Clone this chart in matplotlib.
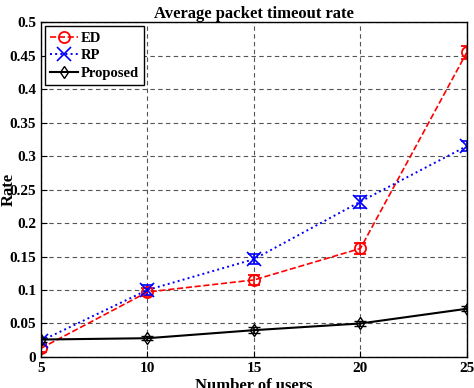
import matplotlib
matplotlib.use("Agg")
import matplotlib.pyplot as plt
from matplotlib.lines import Line2D

plt.rcParams['font.family'] = ['Liberation Serif', 'DejaVu Serif']
plt.rcParams['font.weight'] = 'bold'

users = [5, 10, 15, 20, 25]
ed = [0.013, 0.097, 0.115, 0.162, 0.455]
ed_err = [0.005, 0.006, 0.007, 0.008, 0.010]
rp = [0.024, 0.100, 0.146, 0.232, 0.315]
rp_err = [0.004, 0.008, 0.007, 0.009, 0.008]
prop = [0.026, 0.028, 0.040, 0.050, 0.072]
prop_err = [0.003, 0.003, 0.004, 0.004, 0.004]

fig = plt.figure(figsize=(4.74, 3.88), dpi=100)
ax = fig.add_axes([0.0865, 0.080, 0.8985, 0.863])

styles = [
    dict(color='red', ls='--', lw=1.2, marker='o', mfc='none', ms=8, mew=1.3),
    dict(color='blue', ls=':', lw=1.4, marker='x', ms=10, mew=1.2),
    dict(color='black', ls='-', lw=1.5, marker='d', mfc='none', ms=6, mew=1.0),
]
names = ['ED', 'RP', 'Proposed']
for y, e, st in zip([ed, rp, prop], [ed_err, rp_err, prop_err], styles):
    ax.errorbar(users, y, yerr=e, capsize=4, elinewidth=1.2, **st)

ax.set_xlim(5, 25)
ax.set_ylim(0, 0.5)
ax.set_xticks(users)
ax.set_yticks([0, 0.05, 0.1, 0.15, 0.2, 0.25, 0.3, 0.35, 0.4, 0.45, 0.5])
ax.set_yticklabels(['0', '0.05', '0.1', '0.15', '0.2', '0.25', '0.3', '0.35', '0.4', '0.45', '0.5'])
ax.tick_params(labelsize=11, direction='in', length=4)
ax.grid(True, ls='--', color='#555555', lw=0.8, dashes=(4, 3))
for s in ax.spines.values():
    s.set_linewidth(1.0)

ax.set_title('Average packet timeout rate', fontsize=12, fontweight='bold', pad=1)
ax.set_xlabel('Number of users', fontsize=12, fontweight='bold', labelpad=2)
ax.set_ylabel('Rate', fontsize=12, fontweight='bold')
ax.yaxis.set_label_coords(-0.057, 0.5)

handles = [Line2D([], [], **st) for st in styles]
leg = ax.legend(handles, names, loc='upper left', fontsize=10.5, fancybox=False,
                framealpha=1, edgecolor='black', borderaxespad=0.3,
                handlelength=1.9, handletextpad=0.2, labelspacing=0.3,
                borderpad=0.35)
leg.get_frame().set_linewidth(1.0)

fig.savefig('out.png', dpi=100)
